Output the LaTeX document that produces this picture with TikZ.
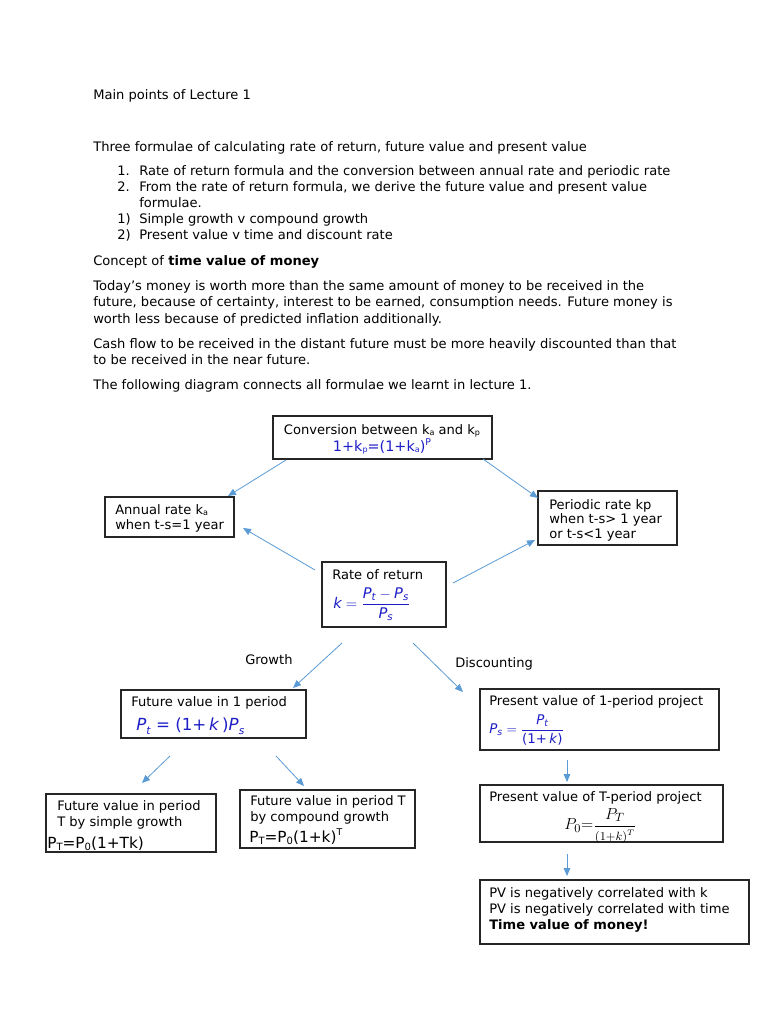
\documentclass[tikz,border=0pt]{standalone}
\usepackage{fontspec}
\usepackage{amsmath}
\setmainfont{DejaVu Sans}
\usetikzlibrary{arrows.meta,fit}
\definecolor{arrowblue}{RGB}{91,155,213}
\definecolor{formblue}{RGB}{30,30,200}
\newcommand\mysub[1]{\raisebox{-0.25ex}{\fontsize{6}{6}\selectfont #1}}
\newcommand\mysup[1]{\raisebox{0.7ex}{\fontsize{7}{7}\selectfont #1}}
\begin{document}
\begin{tikzpicture}[x=0.75pt,y=-0.75pt,
 txt/.style={anchor=base west,inner sep=0,font=\fontsize{9.8}{12}\selectfont},
 ctxt/.style={anchor=base,inner sep=0,font=\fontsize{9.8}{12}\selectfont},
 big/.style={anchor=base west,inner sep=0,font=\fontsize{11.5}{13}\selectfont},
 frm/.style={anchor=west,inner sep=0,text=formblue,font=\fontsize{11}{13}\selectfont},
 box/.style={draw=black!85,line width=0.8pt,inner sep=0},
 conn/.style={draw=arrowblue,line width=0.6pt,-{Triangle[length=6pt,width=5pt]}}]
\path[use as bounding box,fill=white] (0,0) rectangle (768,1024);

% ---- header text ----
\node[txt] (t1) at (93,99) {Main points of Lecture 1};
\node[txt] (t2) at (93,151) {Three formulae of calculating rate of return, future value and present value};
\node[txt] (l1n) at (117,175) {1.};
\node[txt] (l1) at (139,175) {Rate of return formula and the conversion between annual rate and periodic rate};
\node[txt] (l2n) at (117,191) {2.};
\node[txt] (l2) at (139,191) {From the rate of return formula, we derive the future value and present value};
\node[txt] (l2b) at (139,207) {formulae.};
\node[txt] (l3n) at (117,223) {1)};
\node[txt] (l3) at (139,223) {Simple growth v compound growth};
\node[txt] (l4n) at (117,239) {2)};
\node[txt] (l4) at (139,239) {Present value v time and discount rate};
\node[txt] (c1) at (93,265) {Concept of \textbf{time value of money}};
\node[txt] (p1) at (93,290) {Today’s money is worth more than the same amount of money to be received in the};
\node[txt] (p2) at (93,306) {future, because of certainty, interest to be earned, consumption needs. Future money is};
\node[txt] (p3) at (93,323) {worth less because of predicted inflation additionally.};
\node[txt] (q1) at (93,348) {Cash flow to be received in the distant future must be more heavily discounted than that};
\node[txt] (q2) at (93,364) {to be received in the near future.};
\node[txt] (r1) at (93,389) {The following diagram connects all formulae we learnt in lecture 1.};

% ---- boxes ----
\node[box,fit={(273,416) (492,459)}] (conv) {};
\node[box,fit={(105,497) (234,537)}] (annual) {};
\node[box,fit={(538,491) (677,545)}] (periodic) {};
\node[box,fit={(322,562) (446,627)}] (rate) {};
\node[box,fit={(121,690) (306,738)}] (fv1) {};
\node[box,fit={(480,689) (719,750)}] (pv1) {};
\node[box,fit={(46,794) (216,852)}] (fvs) {};
\node[box,fit={(240,790) (415,848)}] (fvc) {};
\node[box,fit={(480,785) (723,842)}] (pvt) {};
\node[box,fit={(480,880) (749,944)}] (pvk) {};

% ---- box texts ----
\node[ctxt] (convA) at (382,434) {Conversion between k\mysub{a} and k\mysub{p}};
\node[ctxt,text=formblue,font=\fontsize{10.8}{12}\selectfont] (convB) at (382,451) {1+k\mysub{p}=(1+k\mysub{a})\mysup{P}};

\node[txt] (annA) at (115,514) {Annual rate k\mysub{a}};
\node[txt] (annB) at (115,529) {when t-s=1 year};

\node[txt] (perA) at (549,509) {Periodic rate kp};
\node[txt] (perB) at (549,523) {when t-s> 1 year};
\node[txt] (perC) at (549,538) {or t-s<1 year};

\node[txt] (rateA) at (332,579) {Rate of return};
\node[frm] (rateB) at (333,604) {$\textit{k} = \dfrac{\textit{P}_{\textit{t}} - \textit{P}_{\textit{s}}}{\textit{P}_{\textit{s}}}$};

\node[txt] (fv1A) at (131,706) {Future value in 1 period};
\node[frm,font=\fontsize{12.5}{14}\selectfont] (fv1B) at (136,726) {\textit{P}\raisebox{-0.4ex}{\fontsize{8}{8}\selectfont\textit{t}} = (1+\,\textit{k}\,)\textit{P}\raisebox{-0.4ex}{\fontsize{8}{8}\selectfont\textit{s}}};

\node[txt] (pv1A) at (489,705) {Present value of 1-period project};
\node[frm,font=\fontsize{10}{12}\selectfont] (pv1B) at (489,730) {$\textit{P}_{\textit{s}} = \dfrac{\textit{P}_{\textit{t}}}{\text{(1+\,\textit{k})}}$};

\node[txt] (fvsA) at (57,810) {Future value in period};
\node[txt] (fvsB) at (57,826) {T by simple growth};
\node[big] (fvsC) at (47,848) {P\raisebox{-0.3ex}{\fontsize{7.5}{8}\selectfont T}=P\raisebox{-0.3ex}{\fontsize{7.5}{8}\selectfont 0}(1+Tk)};

\node[txt] (fvcA) at (250,805) {Future value in period T};
\node[txt] (fvcB) at (250,821) {by compound growth};
\node[big] (fvcC) at (249,842) {P\raisebox{-0.3ex}{\fontsize{7.5}{8}\selectfont T}=P\raisebox{-0.3ex}{\fontsize{7.5}{8}\selectfont 0}(1+k)\raisebox{0.75ex}{\fontsize{7}{7}\selectfont T}};

\node[txt] (pvtA) at (489,801) {Present value of T-period project};
\node[anchor=west,inner sep=0,font=\fontsize{12.5}{14}\selectfont] (pvtB) at (564,826) {$P_0{=}\dfrac{P_T}{\scriptstyle(1+k)^{T}}$};

\node[txt] (pvkA) at (489,897) {PV is negatively correlated with k};
\node[txt] (pvkB) at (489,913) {PV is negatively correlated with time};
\node[txt] (pvkC) at (489,929) {\textbf{Time value of money!}};

% ---- labels ----
\node[txt] (growth) at (245,664) {Growth};
\node[txt] (disc) at (455,667) {Discounting};

% ---- connectors ----
\coordinate (a1s) at (286,460); \coordinate (a1e) at (228,496);
\coordinate (a2s) at (483,459); \coordinate (a2e) at (538,498);
\coordinate (a3s) at (315,570); \coordinate (a3e) at (243,528);
\coordinate (a4s) at (453,583); \coordinate (a4e) at (535,540);
\coordinate (a5s) at (342,643); \coordinate (a5e) at (293,688);
\coordinate (a6s) at (413,643); \coordinate (a6e) at (463,692);
\coordinate (a7s) at (170,756); \coordinate (a7e) at (142,783);
\coordinate (a8s) at (276,756); \coordinate (a8e) at (304,786);
\coordinate (a9s) at (567,760); \coordinate (a9e) at (567,782);
\coordinate (a10s) at (567,854); \coordinate (a10e) at (567,876);
\draw[conn] (a1s) -- (a1e);
\draw[conn] (a2s) -- (a2e);
\draw[conn] (a3s) -- (a3e);
\draw[conn] (a4s) -- (a4e);
\draw[conn] (a5s) -- (a5e);
\draw[conn] (a6s) -- (a6e);
\draw[conn] (a7s) -- (a7e);
\draw[conn] (a8s) -- (a8e);
\draw[conn] (a9s) -- (a9e);
\draw[conn] (a10s) -- (a10e);
\end{tikzpicture}
\end{document}
